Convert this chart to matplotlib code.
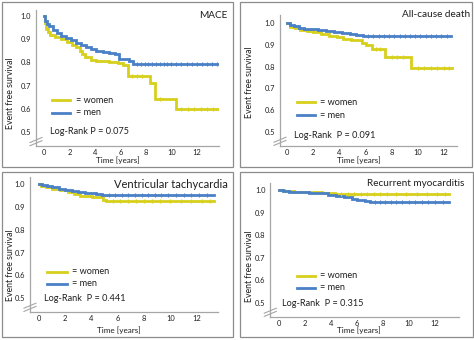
import matplotlib
matplotlib.use("Agg")
import matplotlib.pyplot as plt
from matplotlib.lines import Line2D
from matplotlib.patches import Rectangle

plt.rcParams["font.family"] = ["Lato", "DejaVu Sans"]

# ---- Kaplan-Meier step data (time in years, event free survival) ----
mace_women_t = [0, 0.05, 0.15, 0.3, 0.5, 0.9, 1.3, 1.8, 2.2, 2.5, 2.8, 3.0, 3.2, 3.7, 4.1, 5.1, 5.8, 6.2, 6.6, 8.3, 8.73, 10.38, 13.8]
mace_women_s = [1.0, 0.97, 0.945, 0.93, 0.92, 0.91, 0.90, 0.89, 0.875, 0.865, 0.85, 0.835, 0.822, 0.812, 0.805, 0.803, 0.797, 0.79, 0.741, 0.71, 0.642, 0.598, 0.598]
mace_men_t = [0, 0.05, 0.2, 0.4, 0.7, 1.0, 1.3, 1.7, 2.1, 2.5, 2.9, 3.3, 3.7, 4.1, 4.6, 5.1, 5.6, 5.9, 6.7, 7.0, 13.8]
mace_men_s = [1.0, 0.98, 0.965, 0.955, 0.94, 0.925, 0.915, 0.905, 0.895, 0.885, 0.875, 0.865, 0.858, 0.85, 0.845, 0.84, 0.835, 0.813, 0.805, 0.793, 0.793]
mace_women_cens = [6.9, 7.3, 7.7, 9.1, 10.8, 11.3, 11.8, 12.3, 12.8, 13.3]
mace_men_cens = [7.3, 7.6, 7.9, 8.2, 8.5, 8.8, 9.1, 9.4, 9.7, 10.0, 10.4, 10.8, 11.2, 11.6, 12.0, 12.4, 12.8, 13.2, 13.6]

acd_women_t = [0, 0.2, 0.6, 1.0, 1.5, 2.0, 2.6, 3.2, 3.8, 4.3, 4.9, 5.7, 6.0, 6.5, 7.5, 9.5, 12.6]
acd_women_s = [1.0, 0.985, 0.978, 0.97, 0.965, 0.958, 0.95, 0.94, 0.935, 0.928, 0.922, 0.91, 0.90, 0.88, 0.846, 0.792, 0.792]
acd_men_t = [0, 0.2, 0.5, 0.9, 1.3, 1.8, 2.4, 3.0, 3.6, 4.2, 4.8, 5.3, 5.8, 12.5]
acd_men_s = [1.0, 0.993, 0.987, 0.98, 0.975, 0.972, 0.967, 0.963, 0.958, 0.955, 0.95, 0.946, 0.942, 0.942]
acd_women_cens = [6.8, 7.1, 8.0, 8.4, 8.9, 10.0, 10.5, 11.0, 11.5, 12.0, 12.4]
acd_men_cens = [6.2, 6.6, 7.0, 7.4, 7.8, 8.2, 8.6, 9.0, 9.4, 9.8, 10.2, 10.6, 11.0, 11.4, 11.8, 12.2]

vt_women_t = [0, 0.15, 0.5, 1.0, 1.6, 2.2, 2.7, 3.1, 4.0, 4.85, 5.1, 13.3]
vt_women_s = [1.0, 0.99, 0.985, 0.978, 0.972, 0.965, 0.958, 0.946, 0.944, 0.932, 0.927, 0.927]
vt_men_t = [0, 0.2, 0.6, 1.0, 1.5, 2.0, 2.5, 3.0, 3.5, 4.3, 4.8, 13.3]
vt_men_s = [1.0, 0.995, 0.99, 0.985, 0.98, 0.975, 0.97, 0.965, 0.962, 0.958, 0.95, 0.95]
vt_women_cens = [5.6, 6.2, 6.8, 7.4, 8.0, 8.6, 9.2, 10.0, 10.8, 11.6, 12.4, 13.0]
vt_men_cens = [5.3, 5.8, 6.3, 6.8, 7.3, 7.8, 8.3, 8.8, 9.3, 9.8, 10.4, 11.0, 11.6, 12.2, 12.8]

rm_women_t = [0, 0.4, 1.2, 2.2, 3.3, 4.3, 13.1]
rm_women_s = [1.0, 0.997, 0.993, 0.99, 0.986, 0.982, 0.982]
rm_men_t = [0, 0.3, 0.8, 1.5, 2.3, 3.0, 3.8, 4.4, 5.0, 5.6, 6.0, 6.6, 7.0, 13.1]
rm_men_s = [1.0, 0.996, 0.993, 0.99, 0.988, 0.985, 0.978, 0.975, 0.97, 0.962, 0.957, 0.95, 0.947, 0.947]
rm_women_cens = [4.8, 5.3, 5.8, 6.3, 6.8, 7.3, 7.8, 8.3, 9.0, 9.8, 10.6, 11.4, 12.2, 12.8]
rm_men_cens = [7.4, 7.8, 8.2, 8.6, 9.0, 9.5, 10.0, 10.5, 11.0, 11.5, 12.0, 12.6]

titles = ["MACE", "All-cause death", "Ventricular tachycardia", "Recurrent myocarditis"]
pvalues = ["Log-Rank P = 0.075", "Log-Rank  P = 0.091", "Log-Rank  P = 0.441", "Log-Rank  P = 0.315"]
legend_labels = ["= women", "= men"]
x_ticks = [0, 2, 4, 6, 8, 10, 12]
y_ticks = [0.5, 0.6, 0.7, 0.8, 0.9, 1.0]

WOMEN = "#d6d01c"
MEN = "#4a80c6"
GRID = "#a6a6a6"
TEXT = "#1f1f1f"

W, H = 474, 340
fig = plt.figure(figsize=(W / 100, H / 100), dpi=100)


def fx(x):
    return x / W


def fy(y):
    return 1 - y / H


def fig_line(xs, ys, **kw):
    fig.add_artist(Line2D([fx(v) for v in xs], [fy(v) for v in ys],
                          transform=fig.transFigure, **kw))


panels = [
    dict(box=(2, 2, 233, 167), ax=(36, 10, 219, 146), x0=44, x12=196.7, y10=16, y05=132,
         data=(mace_women_t, mace_women_s, mace_men_t, mace_men_s, mace_women_cens, mace_men_cens),
         title=(227, 15, 7.2), leg=(52, 70, 76, 100, 113), pv=(50.5, 132), ylab=(11, 93), xlab=(118, 160)),
    dict(box=(240, 2, 472, 167), ax=(280, 15, 457, 145.7), x0=287, x12=444, y10=23.3, y05=131.7,
         data=(acd_women_t, acd_women_s, acd_men_t, acd_men_s, acd_women_cens, acd_men_cens),
         title=(470, 14.5, 7.2), leg=(297, 315, 320, 102, 115), pv=(294, 136), ylab=(250, 82), xlab=(359, 160.5)),
    dict(box=(2, 172, 233, 337), ax=(30, 176.7, 218, 311.7), x0=39, x12=196.7, y10=184, y05=298.3,
         data=(vt_women_t, vt_women_s, vt_men_t, vt_men_s, vt_women_cens, vt_men_cens),
         title=(228, 184.5, 8.0), leg=(47, 67, 72, 272, 283.5), pv=(44, 298.5), ylab=(10.5, 265), xlab=(118.7, 330)),
    dict(box=(240, 172, 473, 337), ax=(270.3, 183.3, 458.7, 316.7), x0=278.7, x12=434.7, y10=190, y05=302.7,
         data=(rm_women_t, rm_women_s, rm_men_t, rm_men_s, rm_women_cens, rm_men_cens),
         title=(464, 184, 7.2), leg=(297, 315, 320, 276, 287.5), pv=(282, 304), ylab=(249.5, 266.5), xlab=(359, 330.5)),
]

for i, p in enumerate(panels):
    # panel frame
    bl, bt, br, bb = p["box"]
    fig.add_artist(Rectangle((fx(bl), fy(bb)), fx(br) - fx(bl), fy(bt) - fy(bb),
                             transform=fig.transFigure, fill=False, ec="#8c8c8c", lw=0.9))

    L, T, R, B = p["ax"]
    ax = fig.add_axes([fx(L), fy(B), fx(R) - fx(L), fy(T) - fy(B)])
    xs = (p["x12"] - p["x0"]) / 12.0
    ys = (p["y05"] - p["y10"]) / 0.5
    ax.set_xlim((L - p["x0"]) / xs, (R - p["x0"]) / xs)
    ax.set_ylim(1.0 - (B - p["y10"]) / ys, 1.0 - (T - p["y10"]) / ys)

    wt, ws, mt, ms, wc, mc = p["data"]
    ax.step(wt, ws, where="post", color=WOMEN, lw=2.0, solid_joinstyle="miter")
    ax.step(mt, ms, where="post", color=MEN, lw=2.0, solid_joinstyle="miter")

    def surv_at(tt, ss, t):
        v = ss[0]
        for a, b in zip(tt, ss):
            if a <= t:
                v = b
        return v

    ax.plot(wc, [surv_at(wt, ws, t) for t in wc], ls="none", marker="|",
            ms=2.5, mew=0.8, color=WOMEN)
    ax.plot(mc, [surv_at(mt, ms, t) for t in mc], ls="none", marker="|",
            ms=2.5, mew=0.8, color=MEN)

    ax.set_xticks(x_ticks)
    ax.set_yticks(y_ticks)
    ax.set_yticklabels([f"{v:.1f}" for v in y_ticks])
    ax.tick_params(length=0, labelsize=5.4, colors=TEXT)
    ax.tick_params(axis="x", pad=2.5)
    ax.tick_params(axis="y", pad=3.5)
    for s in ("top", "right"):
        ax.spines[s].set_visible(False)
    for s in ("left", "bottom"):
        ax.spines[s].set_color(GRID)
        ax.spines[s].set_linewidth(0.9)
    ax.patch.set_visible(False)

    # axis break marks
    for dy in (0.0, 3.2):
        fig_line([L - 6, L + 6], [B - 3.5 + dy, B - 8.5 + dy], color=GRID, lw=0.8)

    # title, legend, p value, axis labels
    tx, ty, tfs = p["title"]
    fig.text(fx(tx), fy(ty), titles[i], ha="right", va="center", fontsize=tfs, color=TEXT)
    lx0, lx1, ltx, ly1, ly2 = p["leg"]
    fig_line([lx0, lx1], [ly1, ly1], color=WOMEN, lw=2.0)
    fig_line([lx0, lx1], [ly2, ly2], color=MEN, lw=2.0)
    fig.text(fx(ltx), fy(ly1), legend_labels[0], ha="left", va="center", fontsize=6.6, color=TEXT)
    fig.text(fx(ltx), fy(ly2), legend_labels[1], ha="left", va="center", fontsize=6.6, color=TEXT)
    px_, py_ = p["pv"]
    fig.text(fx(px_), fy(py_), pvalues[i], ha="left", va="center", fontsize=6.6, color=TEXT)
    ylx, yly = p["ylab"]
    fig.text(fx(ylx), fy(yly), "Event free survival", rotation=90, ha="center", va="center",
             fontsize=6.3, color=TEXT)
    xlx, xly = p["xlab"]
    fig.text(fx(xlx), fy(xly), "Time [years]", ha="center", va="center", fontsize=5.9, color=TEXT)

fig.savefig("out.png", dpi=100, facecolor="white")
